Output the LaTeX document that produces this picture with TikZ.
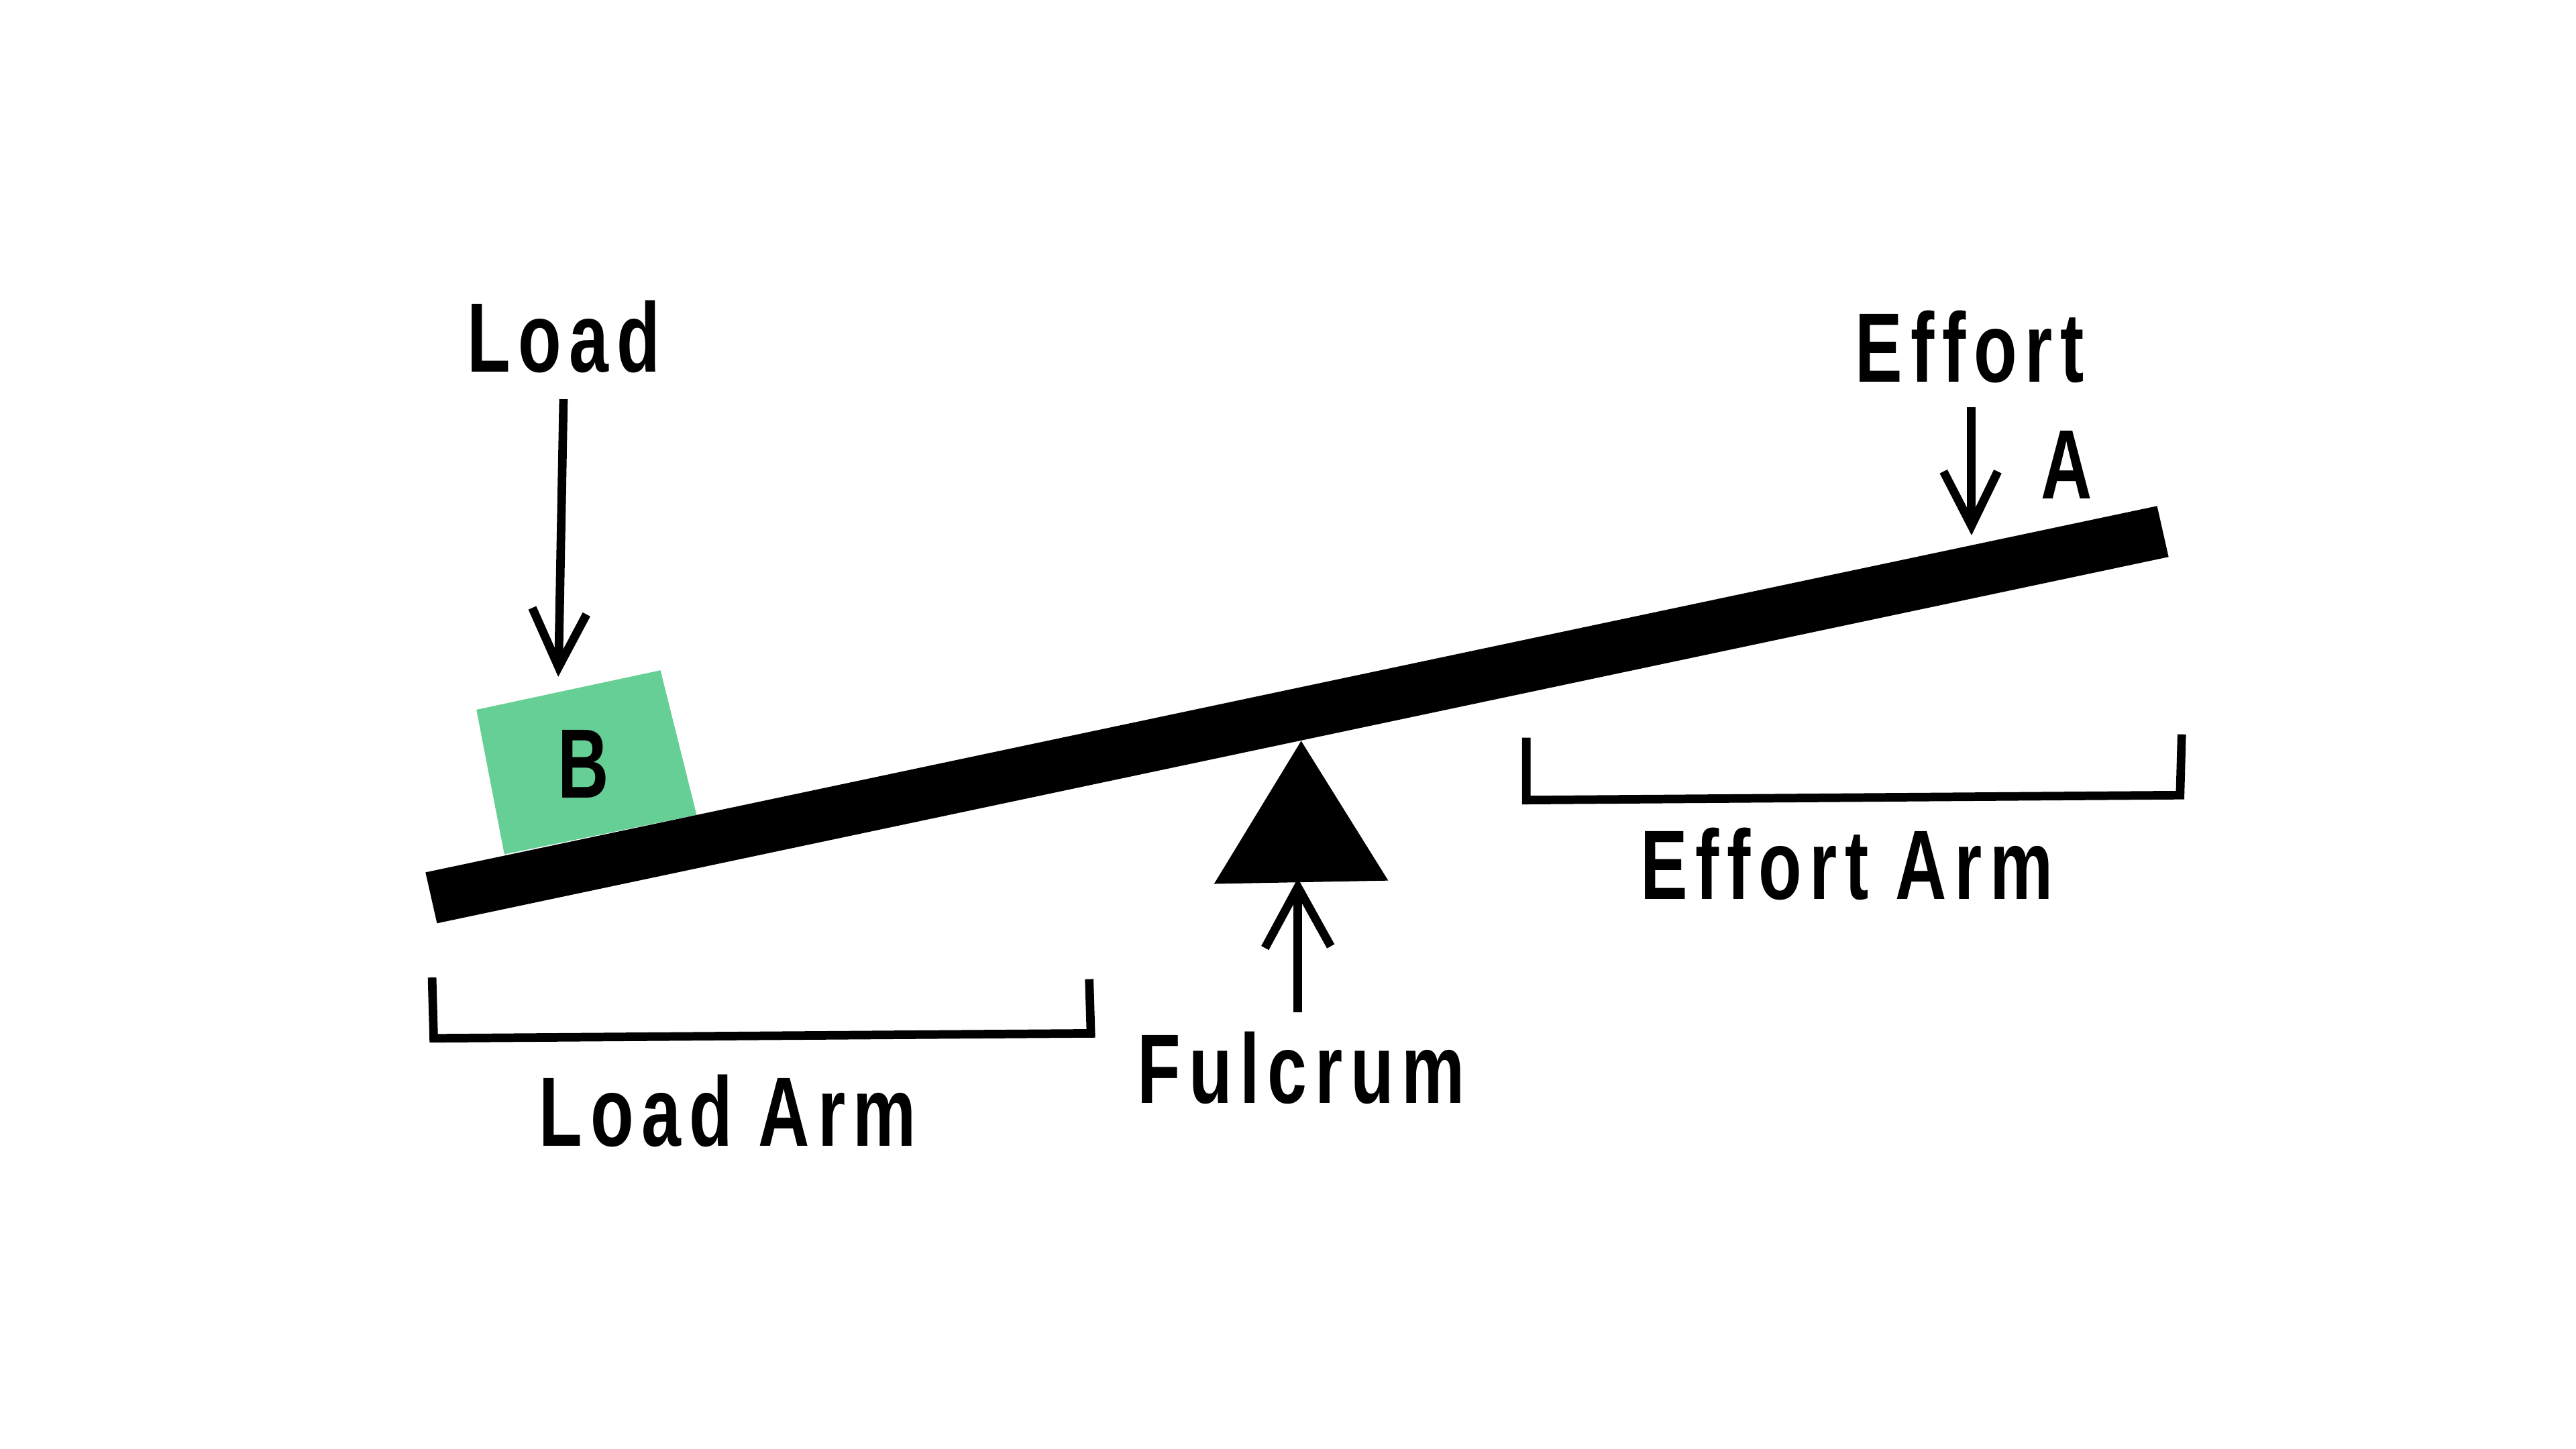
\documentclass[tikz,border=0pt]{standalone}
\usepackage{fontspec}
\setmainfont{Liberation Sans}[FakeStretch=0.72,LetterSpace=8]
\begin{document}
\begin{tikzpicture}[x=0.5pt,y=-0.5pt,
  lbl/.style={font=\fontsize{30}{30}\selectfont\bfseries,inner sep=0},
  ln/.style={line width=2.6pt},
  bk/.style={line width=2.6pt,line cap=butt}]
\definecolor{grn}{HTML}{66CF95}
\useasboundingbox (0,0) rectangle (1568,882);
\fill[grn] (290,432) -- (402,408) -- (424,496) -- (307,520) -- cycle;
\fill (259,531) -- (1313,308) -- (1320,339) -- (266,562) -- cycle;
\fill (792,451) -- (739,538) -- (845,536) -- cycle;
% arrows
\coordinate (f0) at (790,616); \coordinate (f1) at (790,540);
\draw[ln] (f0) -- (f1); \draw[ln,line join=miter] (770,577) -- (f1) -- (810,576);
\coordinate (l0) at (343,243); \coordinate (l1) at (340,406);
\draw[ln] (l0) -- (l1); \draw[ln,line join=miter] (324,370) -- (l1) -- (357,374);
\coordinate (e0) at (1200,248); \coordinate (e1) at (1200,320);
\draw[ln] (e0) -- (e1); \draw[ln,line join=miter] (1183,287) -- (e1) -- (1216,287);
% brackets
\draw[bk] (263,595) -- (264,632) -- (664,629) -- (663,596);
\draw[bk] (929,449) -- (929,487) -- (1327,484) -- (1328,447);
% labels
\node[lbl] (load) at (343,205) {Load};
\node[lbl] (effort) at (1199,211) {Effort};
\node[lbl] (A) at (1258,283) {A};
\node[lbl] (B) at (355,465) {B};
\node[lbl] (fulc) at (792,650) {Fulcrum};
\node[lbl] (larm) at (443,676) {Load\hspace{8pt}Arm};
\node[lbl] (earm) at (1124,526) {Effort\hspace{8pt}Arm};
\end{tikzpicture}
\end{document}
